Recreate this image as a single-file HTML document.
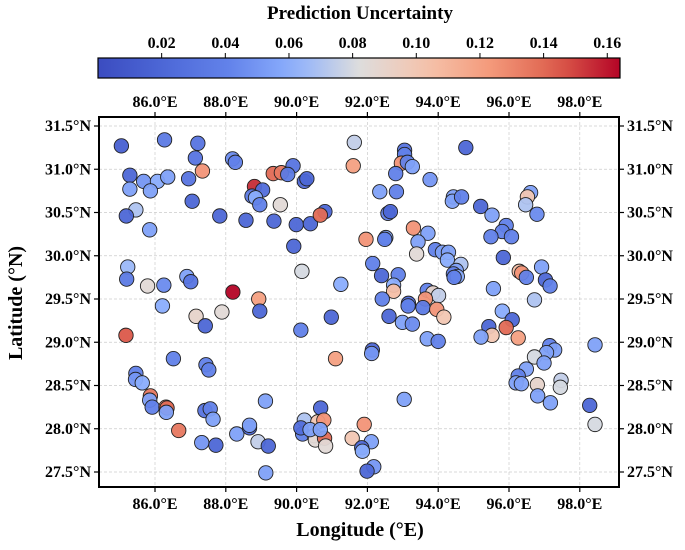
<!DOCTYPE html>
<html><head><meta charset="utf-8"><style>
html,body{margin:0;padding:0;background:#fff;}
svg{display:block;font-family:"Liberation Serif",serif;font-weight:bold;}
</style></head><body>
<svg id="chart" width="685" height="550" viewBox="0 0 685 550">
<defs><linearGradient id="cmap" x1="0" x2="1" y1="0" y2="0"></linearGradient></defs>
<text x="360" y="19" text-anchor="middle" font-size="19">Prediction Uncertainty</text>
<g id="cbar"></g>
<g id="grid"></g>
<g id="pts"></g>
<g id="axes"></g>
<text x="360" y="536" text-anchor="middle" font-size="20">Longitude (°E)</text>
<text transform="translate(22,303) rotate(-90)" text-anchor="middle" font-size="20">Latitude (°N)</text>
</svg>
<script>
const lons=[85.05,86.27,87.21,87.14,87.34,85.29,85.68,86.07,86.36,85.29,85.87,86.95,87.05,85.46,85.19,85.85,88.19,88.27,89.34,89.57,89.90,89.75,90.22,90.29,88.81,89.04,88.74,88.84,88.96,89.54,87.83,88.57,89.36,89.99,90.39,90.80,90.67,89.92,91.63,91.60,85.23,85.20,85.79,86.25,86.90,87.01,88.20,88.93,90.15,91.25,86.21,87.16,87.89,87.42,88.96,90.98,90.12,85.18,86.52,87.44,87.52,91.10,85.46,85.45,85.64,85.87,85.85,85.92,86.31,86.34,86.32,86.67,87.41,87.56,87.64,87.32,87.72,88.31,88.67,88.67,88.91,89.20,89.12,89.13,90.68,90.22,90.17,90.12,90.60,90.77,90.50,90.53,90.79,90.82,90.38,90.67,91.57,93.05,93.05,92.96,93.13,93.27,92.80,94.78,93.77,92.35,92.82,94.43,94.40,94.66,95.20,96.61,96.52,96.47,96.79,95.52,92.58,92.65,93.30,93.71,91.96,92.52,92.49,93.43,95.92,95.81,96.07,95.49,93.39,93.92,94.12,94.29,94.26,94.64,94.51,94.43,94.54,94.45,95.84,92.15,92.40,92.87,92.74,92.74,92.42,96.29,96.36,96.49,96.92,97.03,97.16,95.56,96.72,93.69,93.85,94.01,93.64,93.16,92.61,92.99,93.27,93.15,93.57,93.96,94.16,93.69,94.00,95.81,96.09,95.92,95.43,95.52,95.21,96.26,92.14,92.12,97.15,97.29,97.06,96.72,96.99,96.49,96.26,96.20,96.35,96.80,96.81,97.17,97.47,97.45,98.43,98.28,98.43,93.04,91.91,92.11,91.84,91.86,92.18,91.99];
const lats=[31.27,31.34,31.30,31.13,30.98,30.93,30.86,30.86,30.91,30.77,30.75,30.89,30.63,30.53,30.46,30.30,31.12,31.08,30.95,30.96,31.04,30.94,30.86,30.89,30.80,30.76,30.69,30.67,30.59,30.59,30.46,30.41,30.40,30.36,30.37,30.51,30.47,30.11,31.31,31.04,29.87,29.73,29.65,29.66,29.76,29.70,29.58,29.50,29.82,29.67,29.42,29.30,29.35,29.19,29.36,29.29,29.14,29.08,28.81,28.74,28.68,28.81,28.64,28.57,28.53,28.38,28.33,28.25,28.25,28.24,28.19,27.98,28.21,28.23,28.11,27.84,27.81,27.94,28.01,28.04,27.85,27.80,28.32,27.49,28.24,28.10,27.94,28.01,28.08,28.10,27.92,27.87,27.89,27.80,27.99,27.99,27.89,31.22,31.17,31.07,31.08,31.03,30.95,31.25,30.88,30.74,30.74,30.68,30.63,30.68,30.57,30.73,30.68,30.59,30.48,30.47,30.49,30.51,30.32,30.26,30.19,30.21,30.19,30.16,30.35,30.28,30.22,30.22,30.02,30.07,30.04,30.04,29.95,29.90,29.83,29.79,29.76,29.75,29.98,29.91,29.77,29.78,29.66,29.59,29.50,29.82,29.80,29.75,29.87,29.72,29.65,29.62,29.49,29.60,29.57,29.54,29.50,29.45,29.30,29.23,29.21,29.42,29.40,29.38,29.29,29.04,29.01,29.36,29.26,29.17,29.18,29.08,29.06,29.05,28.91,28.87,28.96,28.91,28.88,28.83,28.76,28.69,28.61,28.53,28.52,28.51,28.38,28.30,28.56,28.48,28.97,28.27,28.05,28.34,28.05,27.85,27.78,27.74,27.56,27.51];
const vals=[.01,.03,.025,.025,.12,.015,.045,.055,.05,.05,.05,.025,.015,.065,.015,.05,.04,.035,.135,.13,.025,.03,.015,.015,.15,.02,.03,.055,.035,.08,.015,.015,.015,.015,.015,.015,.135,.015,.07,.115,.06,.03,.08,.04,.05,.025,.16,.115,.075,.055,.055,.085,.08,.015,.015,.015,.035,.14,.035,.035,.035,.115,.035,.045,.055,.13,.05,.035,.12,.135,.05,.13,.025,.035,.05,.045,.015,.05,.015,.05,.07,.015,.05,.05,.015,.065,.035,.02,.095,.12,.095,.08,.135,.08,.05,.05,.095,.025,.035,.12,.035,.05,.035,.015,.045,.05,.035,.05,.05,.035,.015,.05,.095,.065,.04,.05,.035,.015,.12,.05,.12,.05,.035,.05,.035,.035,.035,.035,.08,.035,.05,.05,.055,.065,.05,.035,.055,.035,.015,.035,.015,.035,.055,.1,.035,.1,.12,.035,.05,.015,.035,.05,.065,.035,.085,.07,.12,.02,.015,.05,.04,.035,.03,.12,.095,.05,.035,.055,.015,.135,.015,.095,.05,.115,.015,.045,.035,.05,.05,.075,.05,.05,.035,.05,.05,.085,.05,.05,.07,.075,.05,.015,.075,.05,.12,.05,.015,.055,.045,.015];
const xTicks=[86,88,90,92,94,96,98];
const yTicks=[27.5,28.0,28.5,29.0,29.5,30.0,30.5,31.0,31.5];
const cTicks=[0.02,0.04,0.06,0.08,0.10,0.12,0.14,0.16];

const NS="http://www.w3.org/2000/svg";
const L=99,R=619,T=117,B=487;
const xS=v=>155+(v-86)*35.4;
const yS=v=>472-(v-27.5)*86.5;
const VMIN=0,VMAX=0.164,CL=98,CR=620;
const cS=v=>CL+(v-VMIN)/(VMAX-VMIN)*(CR-CL);
const anchors=[[0,[59,76,192]],[0.125,[77,104,215]],[0.25,[98,130,234]],[0.375,[141,176,254]],[0.5,[221,221,221]],[0.625,[245,196,173]],[0.75,[244,154,123]],[0.875,[222,96,77]],[1,[180,4,38]]];
function cmap(t){t=Math.max(0,Math.min(1,t));for(let i=1;i<anchors.length;i++){if(t<=anchors[i][0]){const a=anchors[i-1],b=anchors[i];const f=(t-a[0])/(b[0]-a[0]);const c=a[1].map((v,k)=>Math.round(v+(b[1][k]-v)*f));return `rgb(${c[0]},${c[1]},${c[2]})`;}}return 'rgb(180,4,38)';}
function mk(tag,attrs,parent){const e=document.createElementNS(NS,tag);for(const k in attrs)e.setAttribute(k,attrs[k]);parent.appendChild(e);return e;}

const grad=document.getElementById('cmap');
for(let i=0;i<=20;i++){mk('stop',{offset:(i/20),'stop-color':cmap(i/20)},grad);}
const cb=document.getElementById('cbar');
const bar=mk('rect',{x:CL,y:58,width:CR-CL,height:20,fill:'url(#cmap)',stroke:'#000','stroke-width':1.2},cb);


cTicks.forEach(v=>{const x=cS(v);
 const tl=mk('line',{x1:x,x2:x,y1:53,y2:58,stroke:'#000','stroke-width':1},cb);
 
 
 const t=mk('text',{x:x,y:48,'text-anchor':'middle','font-size':16},cb);t.textContent=v.toFixed(2);
 
 
});

const g=document.getElementById('grid');
xTicks.forEach(v=>{const l=mk('line',{x1:xS(v),x2:xS(v),y1:T,y2:B,stroke:'#ccc','stroke-width':0.7,'stroke-dasharray':'3,2'},g);
 
 });
yTicks.forEach(v=>{const l=mk('line',{x1:L,x2:R,y1:yS(v),y2:yS(v),stroke:'#ccc','stroke-width':0.7,'stroke-dasharray':'3,2'},g);
 
 });

const p=document.getElementById('pts');
for(let i=0;i<lons.length;i++){
 const c=mk('circle',{cx:xS(lons[i]),cy:yS(lats[i]),r:7.2,fill:cmap((vals[i]+0.005-VMIN)/(VMAX-VMIN)),stroke:'#222','stroke-width':0.9,'fill-opacity':0.95},p);
 
 
}

const a=document.getElementById('axes');
const fr=mk('rect',{x:L,y:T,width:R-L,height:B-T,fill:'none',stroke:'#000','stroke-width':2},a);


xTicks.forEach(v=>{const x=xS(v);const lab=v.toFixed(1)+'°E';
 mk('line',{x1:x,x2:x,y1:B,y2:B+5,stroke:'#000','stroke-width':1.2},a);
 mk('line',{x1:x,x2:x,y1:T,y2:T-5,stroke:'#000','stroke-width':1.2},a);
 const t1=mk('text',{x:x,y:B+22,'text-anchor':'middle','font-size':16},a);t1.textContent=lab;
 
 
 const t2=mk('text',{x:x,y:T-10,'text-anchor':'middle','font-size':16},a);t2.textContent=lab;
 
 
});
yTicks.forEach(v=>{const y=yS(v);const lab=v.toFixed(1)+'°N';
 mk('line',{x1:L,x2:L-5,y1:y,y2:y,stroke:'#000','stroke-width':1.2},a);
 mk('line',{x1:R,x2:R+5,y1:y,y2:y,stroke:'#000','stroke-width':1.2},a);
 const t1=mk('text',{x:L-8,y:y+5,'text-anchor':'end','font-size':16},a);t1.textContent=lab;
 
 
 const t2=mk('text',{x:R+8,y:y+5,'text-anchor':'start','font-size':16},a);t2.textContent=lab;
 
 
});
</script>
</body></html>
